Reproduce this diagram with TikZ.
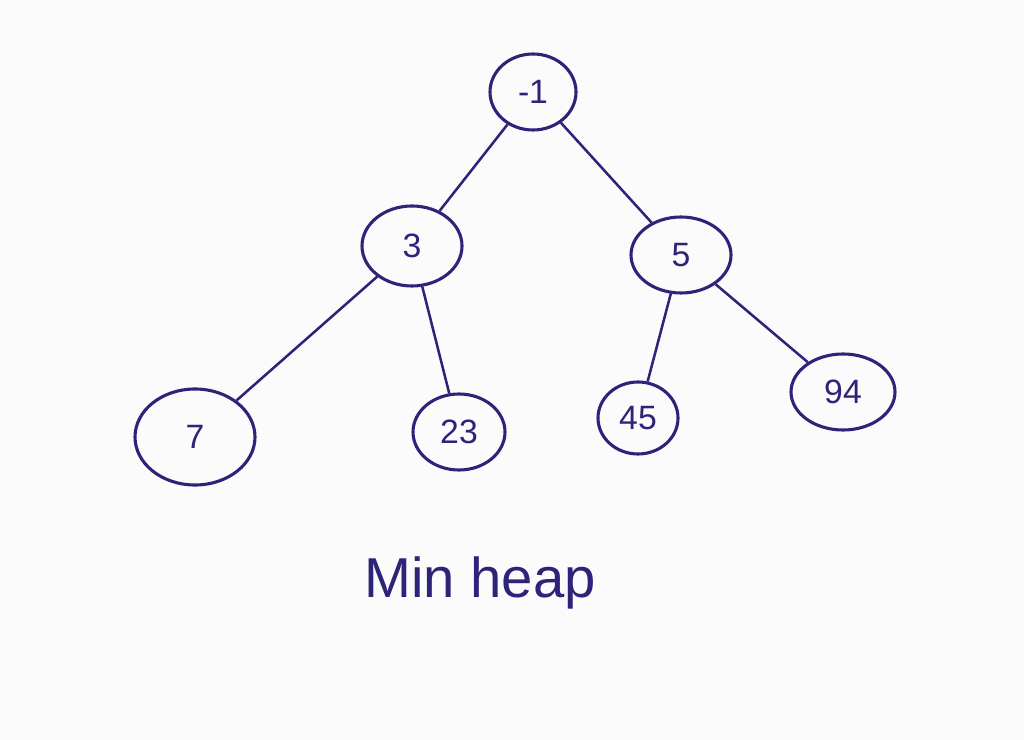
\documentclass[tikz,border=0pt]{standalone}
\usepackage{fontspec}
\setmainfont{Liberation Sans}
\usetikzlibrary{shapes.geometric}
\definecolor{ink}{RGB}{45,35,120}
\begin{document}
\begin{tikzpicture}[x=0.025cm,y=-0.025cm,
  hn/.style={draw=ink,line width=2.2pt,ellipse,inner sep=0pt,text=ink,font=\fontsize{24}{28}\selectfont},
  ed/.style={draw=ink,line width=1.8pt}]
\fill[white!97!gray] (0,0) rectangle (1024,740);
\useasboundingbox (0,0) rectangle (1024,740);
\node[hn,minimum width=86*0.025cm,minimum height=76*0.025cm] (a) at (533,92) {-1};
\node[hn,minimum width=100*0.025cm,minimum height=80*0.025cm] (b) at (412,246) {3};
\node[hn,minimum width=100*0.025cm,minimum height=76*0.025cm] (c) at (681,255) {5};
\node[hn,minimum width=120*0.025cm,minimum height=96*0.025cm] (d) at (195,437) {7};
\node[hn,minimum width=92*0.025cm,minimum height=76*0.025cm] (e) at (459,432) {23};
\node[hn,minimum width=80*0.025cm,minimum height=72*0.025cm] (f) at (638,418) {45};
\node[hn,minimum width=104*0.025cm,minimum height=76*0.025cm] (g) at (843,392) {94};
\draw[ed] (a) -- (b);
\draw[ed] (a) -- (c);
\draw[ed] (b) -- (d);
\draw[ed] (b) -- (e);
\draw[ed] (c) -- (f);
\draw[ed] (c) -- (g);
\node[text=ink,font=\fontsize{40}{46}\selectfont] (t) at (480,583) {Min heap};
\end{tikzpicture}
\end{document}
